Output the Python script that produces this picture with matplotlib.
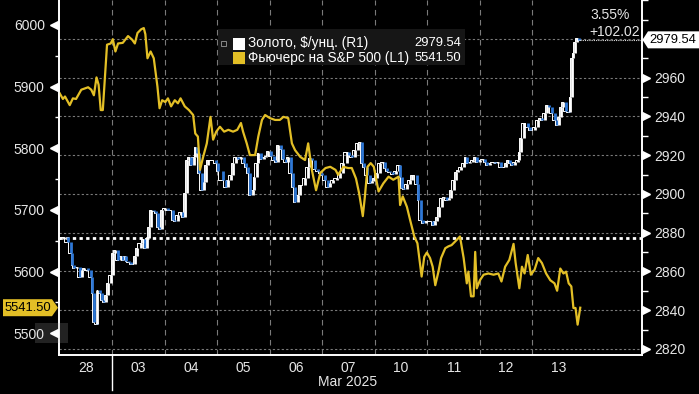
import matplotlib.pyplot as plt
import matplotlib.transforms as mtransforms
from matplotlib.patches import Rectangle, Polygon
from matplotlib.ticker import MultipleLocator

# дни торгов (подписи по центру каждого дня)
days = ['28', '03', '04', '05', '06', '07', '10', '11', '12', '13']

# фьючерс на S&P 500 (левая ось): время в торговых днях от начала 28 фев, значение
sp_t = [0.00, 0.06, 0.10, 0.19, 0.25, 0.31, 0.41, 0.54, 0.60, 0.65, 0.70, 0.74, 0.78, 0.82,
        0.90, 0.97, 1.01, 1.06, 1.11, 1.20, 1.30, 1.38, 1.43, 1.48, 1.55, 1.60, 1.63, 1.67,
        1.73, 1.79, 1.86, 1.90, 1.95, 2.01, 2.06, 2.12, 2.19, 2.25, 2.30, 2.38, 2.46, 2.54,
        2.58, 2.63, 2.67, 2.73, 2.80, 2.87, 2.92, 2.98, 3.05, 3.13, 3.21, 3.30, 3.38, 3.45,
        3.49, 3.56, 3.62, 3.72, 3.78, 3.85, 3.91, 4.00, 4.10, 4.19, 4.26, 4.35, 4.42, 4.48,
        4.58, 4.67, 4.73, 4.80, 4.88, 4.96, 5.06, 5.15, 5.25, 5.30, 5.40, 5.49, 5.56, 5.64,
        5.70, 5.77, 5.81, 5.86, 5.92, 5.98, 6.07, 6.16, 6.26, 6.35, 6.45, 6.48, 6.53, 6.61,
        6.67, 6.75, 6.81, 6.89, 6.94, 6.99, 7.05, 7.10, 7.15, 7.21, 7.26, 7.34, 7.40, 7.46,
        7.53, 7.62, 7.69, 7.75, 7.78, 7.83, 7.88, 7.91, 7.94, 8.00, 8.07, 8.16, 8.26, 8.35,
        8.41, 8.48, 8.56, 8.64, 8.68, 8.75, 8.80, 8.85, 8.91, 8.97, 9.04, 9.11, 9.18, 9.26,
        9.34, 9.42, 9.47, 9.53, 9.59, 9.64, 9.69, 9.74, 9.78, 9.82, 9.86, 9.91]
sp_v = [5889, 5880, 5884, 5870, 5881, 5880, 5895, 5899, 5895, 5886, 5915, 5903, 5862, 5862,
        5968, 5970, 5977, 5957, 5970, 5971, 5982, 5976, 5970, 5987, 5993, 5995, 5985, 5946,
        5957, 5946, 5900, 5865, 5878, 5875, 5881, 5868, 5878, 5873, 5881, 5868, 5862, 5854,
        5824, 5819, 5765, 5786, 5808, 5851, 5814, 5827, 5835, 5827, 5830, 5827, 5830, 5841,
        5827, 5808, 5789, 5789, 5819, 5846, 5854, 5849, 5846, 5846, 5851, 5849, 5808, 5797,
        5786, 5781, 5808, 5765, 5732, 5760, 5768, 5770, 5765, 5757, 5770, 5768, 5768, 5751,
        5727, 5690, 5722, 5770, 5776, 5770, 5730, 5743, 5754, 5749, 5754, 5708, 5722, 5705,
        5684, 5657, 5646, 5592, 5624, 5631, 5622, 5608, 5578, 5600, 5622, 5638, 5641, 5643,
        5649, 5657, 5622, 5581, 5600, 5560, 5560, 5632, 5573, 5586, 5595, 5597, 5595, 5597,
        5584, 5608, 5619, 5645, 5614, 5573, 5608, 5597, 5627, 5595, 5603, 5622, 5614, 5597,
        5586, 5581, 5569, 5605, 5597, 5600, 5581, 5576, 5541, 5541, 5514, 5541.5]

# золото, $/унц. (правая ось)
gold_t = [0.00, 0.09, 0.16, 0.21, 0.23, 0.28, 0.33, 0.38, 0.42, 0.47, 0.54, 0.59, 0.61, 0.65,
          0.70, 0.71, 0.76, 0.80, 0.84, 0.89, 0.92, 0.97, 1.01, 1.06, 1.11, 1.16, 1.20, 1.24,
          1.27, 1.31, 1.35, 1.39, 1.43, 1.48, 1.54, 1.58, 1.63, 1.67, 1.69, 1.73, 1.79, 1.84,
          1.87, 1.90, 1.95, 2.00, 2.06, 2.11, 2.16, 2.20, 2.25, 2.30, 2.35, 2.39, 2.43, 2.47,
          2.50, 2.56, 2.58, 2.62, 2.66, 2.71, 2.75, 2.79, 2.83, 2.92, 2.97, 3.02, 3.11, 3.16,
          3.21, 3.26, 3.30, 3.35, 3.40, 3.45, 3.50, 3.54, 3.59, 3.63, 3.67, 3.70, 3.75, 3.78,
          3.83, 3.88, 3.92, 3.97, 4.02, 4.07, 4.11, 4.16, 4.21, 4.26, 4.30, 4.35, 4.40, 4.45,
          4.48, 4.53, 4.58, 4.62, 4.67, 4.72, 4.77, 4.81, 4.86, 4.91, 4.96, 5.00, 5.05, 5.10,
          5.15, 5.21, 5.27, 5.34, 5.40, 5.46, 5.51, 5.56, 5.62, 5.67, 5.72, 5.75, 5.79, 5.85,
          5.90, 5.94, 5.98, 6.04, 6.10, 6.15, 6.19, 6.24, 6.29, 6.35, 6.40, 6.45, 6.48, 6.51,
          6.56, 6.61, 6.66, 6.70, 6.75, 6.80, 6.83, 6.87, 6.92, 6.98, 7.02, 7.06, 7.10, 7.15,
          7.19, 7.23, 7.27, 7.32, 7.37, 7.41, 7.45, 7.50, 7.55, 7.59, 7.64, 7.69, 7.72, 7.76,
          7.81, 7.86, 7.91, 7.95, 8.00, 8.05, 8.10, 8.14, 8.19, 8.26, 8.29, 8.35, 8.40, 8.45,
          8.49, 8.54, 8.57, 8.62, 8.67, 8.72, 8.75, 8.79, 8.83, 8.86, 8.91, 8.96, 9.00, 9.05,
          9.10, 9.15, 9.19, 9.23, 9.27, 9.32, 9.37, 9.42, 9.47, 9.51, 9.55, 9.59, 9.64, 9.69,
          9.72, 9.75, 9.78, 9.81, 9.85, 9.89, 9.91]
gold_v = [2876.6, 2878.0, 2875.4, 2869.4, 2863.4, 2862.0, 2862.5, 2857.3, 2861.0, 2862.0,
          2861.0, 2857.0, 2848.7, 2834.0, 2833.0, 2850.5, 2849.0, 2845.3, 2844.5, 2848.0,
          2853.9, 2858.2, 2869.4, 2871.0, 2866.0, 2868.0, 2866.0, 2868.0, 2865.6, 2865.0,
          2864.0, 2864.0, 2868.0, 2872.0, 2874.8, 2877.0, 2872.0, 2877.5, 2883.1, 2891.7,
          2891.0, 2890.0, 2883.0, 2881.7, 2891.7, 2892.6, 2891.7, 2891.7, 2886.6, 2886.0,
          2889.0, 2890.5, 2888.0, 2900.3, 2917.5, 2919.2, 2915.0, 2919.0, 2924.4, 2921.0,
          2910.7, 2902.0, 2906.0, 2915.0, 2917.5, 2917.5, 2916.0, 2912.0, 2907.2, 2903.8,
          2907.0, 2910.0, 2915.8, 2919.2, 2918.0, 2919.2, 2916.0, 2914.0, 2911.0, 2899.5,
          2902.0, 2908.9, 2915.8, 2921.0, 2918.0, 2919.0, 2919.7, 2922.0, 2919.7, 2917.5,
          2916.5, 2925.3, 2923.0, 2918.0, 2916.4, 2919.0, 2910.7, 2903.8, 2896.0, 2899.5,
          2904.6, 2904.6, 2908.0, 2914.0, 2918.4, 2917.5, 2913.0, 2912.0, 2911.0, 2909.8,
          2907.2, 2903.8, 2905.5, 2907.0, 2908.0, 2911.0, 2916.0, 2921.8, 2920.0, 2919.2,
          2922.7, 2926.1, 2927.0, 2915.8, 2914.0, 2909.8, 2905.5, 2906.5, 2908.5, 2910.7,
          2915.8, 2916.5, 2913.2, 2912.0, 2911.5, 2910.5, 2912.0, 2915.0, 2909.0, 2903.0,
          2902.5, 2905.0, 2907.0, 2910.0, 2910.0, 2905.0, 2896.9, 2886.6, 2884.9, 2885.8,
          2886.0, 2886.0, 2884.0, 2885.8, 2888.3, 2893.4, 2897.8, 2898.5, 2897.0, 2898.0,
          2902.0, 2907.2, 2911.5, 2912.5, 2914.0, 2915.8, 2919.2, 2916.0, 2916.6, 2917.5,
          2919.2, 2916.6, 2917.5, 2918.0, 2916.6, 2915.0, 2916.0, 2916.6, 2915.8, 2916.5,
          2914.0, 2914.0, 2915.8, 2917.5, 2916.0, 2915.0, 2916.6, 2917.5, 2921.8, 2928.7,
          2936.5, 2936.5, 2934.7, 2933.0, 2933.0, 2934.7, 2938.2, 2939.0, 2938.2, 2941.6,
          2945.9, 2945.0, 2941.6, 2938.2, 2935.6, 2939.9, 2945.0, 2947.6, 2943.0, 2942.5,
          2950.2, 2970.0, 2972.6, 2978.6, 2980.3, 2979.5, 2979.54]

gold_base = 2877.52   # уровень начала периода
gold_last = 2979.54
sp_last = 5541.50
chg_pct = '3.55%'
chg_abs = '+102.02'

W, H = 699, 394
YELLOW = '#e3bf26'
BLUE = '#2f78d6'
TXT = '#e6e6e6'
GRID = '#7a7a7a'

plt.rcParams['font.family'] = ['Liberation Sans', 'DejaVu Sans']

fig = plt.figure(figsize=(W / 100, H / 100), dpi=100, facecolor='black')
ax = fig.add_axes([58.7 / W, 39 / H, 583 / W, 355 / H])
ax2 = ax.twinx()
ax.set_zorder(ax2.get_zorder() + 1)
ax.patch.set_visible(False)
ax2.set_facecolor('black')

ax.set_xlim(-0.02, 11.08)
ax.set_ylim(5464.8, 6040.5)
ax2.set_ylim(2816.9, 3000.1)

# сетка
for v in range(2820, 2990, 20):
    ax2.axhline(v, color=GRID, lw=0.8, ls=(0, (2, 2)), zorder=0)
for d in range(1, 10):
    ax2.axvline(d, color=GRID, lw=0.8, ls=(0, (5, 4)), zorder=0)
ax2.axhline(gold_base, color='white', lw=2, ls=(0, (1.2, 1.2)), zorder=1)

# золото: бары от предыдущего закрытия к текущему
ax2.plot(gold_t, gold_v, color='white', lw=0.7, drawstyle='steps-pre', zorder=2)
for i in range(1, len(gold_v)):
    up = gold_v[i] >= gold_v[i - 1]
    ax2.vlines(gold_t[i], gold_v[i - 1], gold_v[i], color='white' if up else BLUE,
               lw=2.0, zorder=3)
ax2.plot([gold_t[-1], 11.08], [gold_last, gold_last], color='#dddddd', lw=0.8,
         ls=(0, (1, 1)), zorder=3)

# S&P 500
ax.plot(sp_t, sp_v, color=YELLOW, lw=1.6, solid_joinstyle='round')

# оси
for a in (ax, ax2):
    a.spines['top'].set_visible(False)
    for s in ('left', 'right', 'bottom'):
        a.spines[s].set_color('white')
        a.spines[s].set_linewidth(1.2)

ax.set_xticks([d + 0.5 for d in range(len(days))])
ax.set_xticklabels(days)
ax.tick_params(axis='x', length=0, pad=4, colors=TXT, labelsize=10)

ax.set_yticks(range(5500, 6001, 100))
ax.yaxis.set_minor_locator(MultipleLocator(50))
ax.tick_params(axis='y', which='major', length=0, pad=10, colors=TXT, labelsize=10)
ax.tick_params(axis='y', which='minor', length=3, color='white', width=1)

ax2.set_yticks(range(2820, 2961, 20))
ax2.yaxis.set_minor_locator(MultipleLocator(10))
ax2.tick_params(axis='y', which='major', length=0, pad=9, colors=TXT, labelsize=10)
ax2.tick_params(axis='y', which='minor', length=4, color='white', width=1)
ax2.tick_params(axis='x', length=0, labelbottom=False)

# треугольные метки на осях
tl = mtransforms.blended_transform_factory(ax.transAxes, ax.transData)
ax.plot([-0.0075] * 6, list(range(5500, 6001, 100)), ls='none', marker='<', ms=6,
        color='white', transform=tl, clip_on=False)
tr = mtransforms.blended_transform_factory(ax2.transAxes, ax2.transData)
ax2.plot([1.0075] * 8, list(range(2820, 2961, 20)), ls='none', marker='>', ms=6,
         color='white', transform=tr, clip_on=False)

# разделитель месяца и подпись
fig.add_artist(plt.Line2D([112.3 / W, 112.3 / W], [1 - 355 / H, 1 - 390 / H],
                          color='white', lw=1))
fig.text(348 / W, 1 - 382 / H, 'Mar 2025', color=TXT, fontsize=10, ha='center', va='center')


def fy(v, axis):
    return axis.transData.transform((0, v))[1]


# ярлык цены золота справа
yg = fy(gold_last, ax2)
fig.add_artist(Polygon([(642.5, yg), (648, yg + 8.5), (W, yg + 8.5), (W, yg - 8.5),
                        (648, yg - 8.5)], closed=True, facecolor='white', edgecolor='none',
                       transform=None))
fig.text(649 / W, yg / H, f'{gold_last:.2f}', color='black', fontsize=9.4, va='center')

# ярлык S&P слева
ys = fy(sp_last, ax)
fig.add_artist(Polygon([(3, ys + 8.5), (52, ys + 8.5), (58, ys), (52, ys - 8.5),
                        (3, ys - 8.5)], closed=True, facecolor=YELLOW, edgecolor='none',
                       transform=None))
fig.text(5 / W, ys / H, f'{sp_last:.2f}', color='black', fontsize=9.4, va='center')

# полупрозрачная кнопка у 5500
fig.add_artist(Rectangle((35 / W, 1 - 343 / H), 33 / W, 20 / H, facecolor='#3a3a3a',
                         alpha=0.6, edgecolor='none'))

# изменение за период
fig.text(590 / W, 1 - 15 / H, chg_pct, color=TXT, fontsize=10, va='center')
fig.text(589 / W, 1 - 32 / H, chg_abs, color=TXT, fontsize=10, va='center')

# легенда
fig.add_artist(Rectangle((218 / W, 1 - 65 / H), 247 / W, 36 / H, facecolor='#161616',
                         edgecolor='none'))
fig.add_artist(Rectangle((221 / W, 1 - 46 / H), 5 / W, 5 / H, facecolor='none',
                         edgecolor='#888888', lw=0.7))
rows = [('Золото, $/унц. (R1)', f'{gold_last:.2f}', 'white', 43.5),
        ('Фьючерс на S&P 500 (L1)', f'{sp_last:.2f}', YELLOW, 58)]
for name, val, col, yc in rows:
    fig.add_artist(Rectangle((233 / W, 1 - (yc + 6) / H), 12 / W, 12 / H, facecolor=col,
                             edgecolor='none'))
    fig.text(248 / W, 1 - yc / H, name, color='white', fontsize=9.8, va='center')
    fig.text(461 / W, 1 - yc / H, val, color='white', fontsize=9.4, va='center', ha='right')

fig.savefig('out.png', dpi=100, facecolor='black')
